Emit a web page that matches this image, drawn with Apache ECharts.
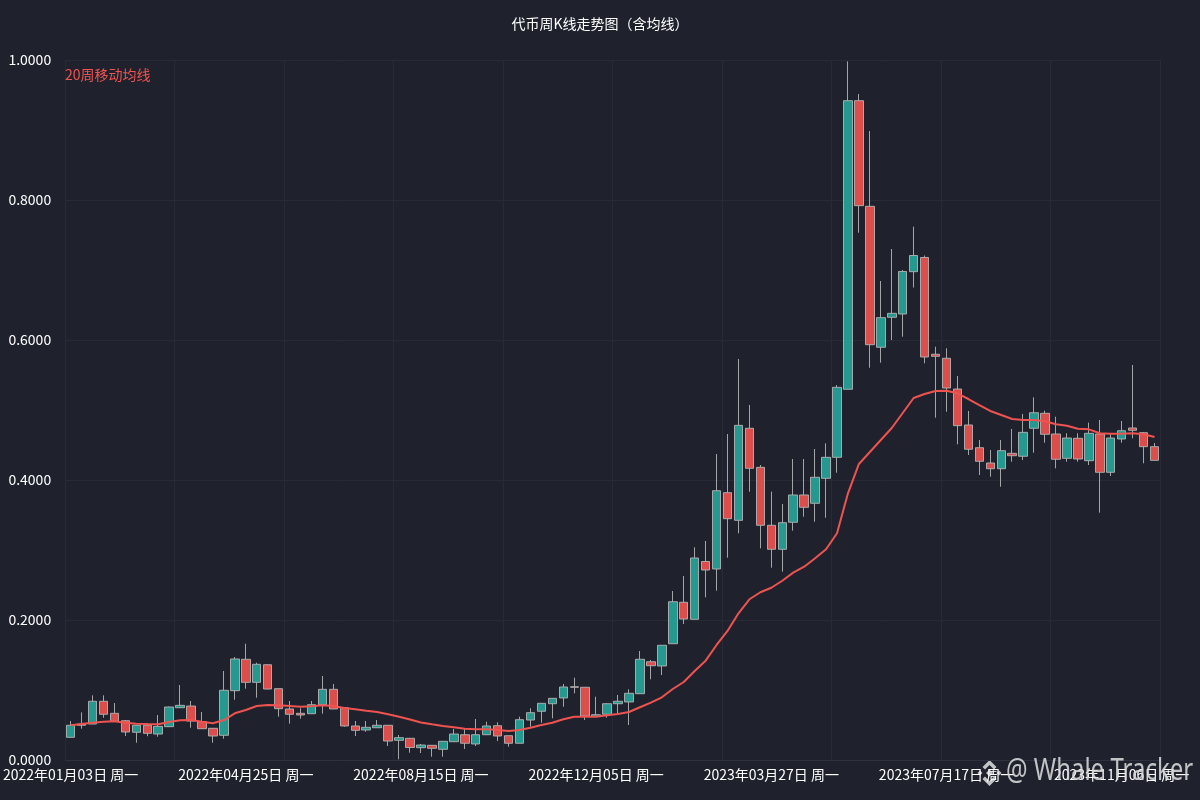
<!DOCTYPE html>
<html>
<head>
<meta charset="utf-8">
<title>代币周K线走势图</title>
<script src="https://cdn.jsdelivr.net/npm/echarts@6/dist/echarts.min.js"></script>
<style>
  html, body { margin: 0; padding: 0; background: #1f222d; }
  #main { width: 1200px; height: 800px; }
</style>
</head>
<body>
<div id="main"></div>
<script>
// weekly candles
const weeks = [
  '2022-01-03','2022-01-10','2022-01-17','2022-01-24','2022-01-31','2022-02-07','2022-02-14','2022-02-21','2022-02-28','2022-03-07',
  '2022-03-14','2022-03-21','2022-03-28','2022-04-04','2022-04-11','2022-04-18','2022-04-25','2022-05-02','2022-05-09','2022-05-16',
  '2022-05-23','2022-05-30','2022-06-06','2022-06-13','2022-06-20','2022-06-27','2022-07-04','2022-07-11','2022-07-18','2022-07-25',
  '2022-08-01','2022-08-08','2022-08-15','2022-08-22','2022-08-29','2022-09-05','2022-09-12','2022-09-19','2022-09-26','2022-10-03',
  '2022-10-10','2022-10-17','2022-10-24','2022-10-31','2022-11-07','2022-11-14','2022-11-21','2022-11-28','2022-12-05','2022-12-12',
  '2022-12-19','2022-12-26','2023-01-02','2023-01-09','2023-01-16','2023-01-23','2023-01-30','2023-02-06','2023-02-13','2023-02-20',
  '2023-02-27','2023-03-06','2023-03-13','2023-03-20','2023-03-27','2023-04-03','2023-04-10','2023-04-17','2023-04-24','2023-05-01',
  '2023-05-08','2023-05-15','2023-05-22','2023-05-29','2023-06-05','2023-06-12','2023-06-19','2023-06-26','2023-07-03','2023-07-10',
  '2023-07-17','2023-07-24','2023-07-31','2023-08-07','2023-08-14','2023-08-21','2023-08-28','2023-09-04','2023-09-11','2023-09-18',
  '2023-09-25','2023-10-02','2023-10-09','2023-10-16','2023-10-23','2023-10-30','2023-11-06','2023-11-13','2023-11-20','2023-11-27'
];

const openVals = [
  0.0324,0.0496,0.0514,0.0839,0.0667,0.0561,0.0396,0.0496,0.0371,0.0476,
  0.0747,0.0771,0.0547,0.0453,0.0353,0.0990,0.1439,0.1110,0.1361,0.1019,
  0.0729,0.0667,0.0661,0.0790,0.1010,0.0747,0.0486,0.0429,0.0461,0.0496,
  0.0281,0.0310,0.0176,0.0210,0.0153,0.0261,0.0361,0.0229,0.0361,0.0490,
  0.0347,0.0239,0.0571,0.0696,0.0804,0.0886,0.1047,0.1039,0.0624,0.0653,
  0.0804,0.0829,0.0947,0.1404,0.1343,0.1661,0.2253,0.2010,0.2836,0.2729,
  0.3819,0.3424,0.4739,0.4181,0.3353,0.3010,0.3396,0.3786,0.3667,0.4024,
  0.4324,0.5296,0.9419,0.7910,0.5896,0.6324,0.6371,0.6976,0.7179,0.5796,
  0.5739,0.5300,0.4786,0.4461,0.4243,0.4161,0.4381,0.4339,0.4739,0.4953,
  0.4657,0.4310,0.4596,0.4276,0.4657,0.4110,0.4586,0.4743,0.4676,0.4476
];
const closeVals = [
  0.0496,0.0514,0.0839,0.0653,0.0553,0.0400,0.0496,0.0381,0.0481,0.0757,
  0.0781,0.0557,0.0447,0.0343,0.0996,0.1443,0.1110,0.1367,0.1014,0.0733,
  0.0653,0.0643,0.0790,0.1010,0.0729,0.0486,0.0424,0.0467,0.0496,0.0271,
  0.0319,0.0179,0.0214,0.0167,0.0267,0.0371,0.0239,0.0361,0.0486,0.0343,
  0.0239,0.0576,0.0676,0.0810,0.0881,0.1043,0.1039,0.0629,0.0647,0.0804,
  0.0839,0.0953,0.1439,0.1347,0.1639,0.2261,0.2014,0.2886,0.2714,0.3847,
  0.3447,0.4781,0.4167,0.3353,0.3010,0.3390,0.3786,0.3610,0.4039,0.4324,
  0.5324,0.9419,0.7919,0.5933,0.6319,0.6381,0.6979,0.7207,0.5757,0.5767,
  0.5314,0.4776,0.4439,0.4267,0.4161,0.4419,0.4347,0.4681,0.4961,0.4653,
  0.4296,0.4600,0.4300,0.4667,0.4110,0.4600,0.4704,0.4710,0.4476,0.4281
];
const lowVals = [
  0.0321,0.0447,0.0514,0.0604,0.0553,0.0343,0.0247,0.0339,0.0333,0.0471,
  0.0743,0.0461,0.0447,0.0247,0.0304,0.0861,0.1019,0.0890,0.1010,0.0619,
  0.0519,0.0590,0.0661,0.0661,0.0729,0.0476,0.0343,0.0404,0.0461,0.0200,
  0.0010,0.0104,0.0100,0.0047,0.0047,0.0257,0.0157,0.0200,0.0357,0.0271,
  0.0190,0.0239,0.0476,0.0533,0.0596,0.0761,0.0953,0.0571,0.0614,0.0604,
  0.0667,0.0500,0.0943,0.1153,0.1214,0.1661,0.1943,0.2010,0.2324,0.2419,
  0.2890,0.3239,0.3833,0.3024,0.2747,0.2690,0.3276,0.3476,0.3404,0.3461,
  0.4104,0.5296,0.7533,0.5604,0.5676,0.6000,0.6047,0.6750,0.5667,0.4890,
  0.4976,0.4510,0.4357,0.4071,0.4047,0.3904,0.4261,0.4286,0.4390,0.4533,
  0.4167,0.4261,0.4261,0.4214,0.3533,0.4057,0.4533,0.4596,0.4239,0.4281
];
const highVals = [
  0.0557,0.0681,0.0924,0.0924,0.0814,0.0571,0.0500,0.0524,0.0643,0.0764,
  0.1071,0.0843,0.0686,0.0457,0.1271,0.1471,0.1661,0.1390,0.1365,0.1019,
  0.0843,0.0739,0.0843,0.1200,0.1086,0.0747,0.0557,0.0557,0.0571,0.0500,
  0.0357,0.0314,0.0229,0.0214,0.0271,0.0443,0.0453,0.0586,0.0547,0.0539,
  0.0347,0.0619,0.0739,0.0810,0.0886,0.1086,0.1176,0.1039,0.0904,0.0814,
  0.0929,0.1010,0.1557,0.1429,0.1643,0.2414,0.2629,0.3039,0.3129,0.4371,
  0.4657,0.5729,0.5071,0.4214,0.3833,0.3657,0.4300,0.4300,0.4443,0.4524,
  0.5357,0.9980,0.9514,0.8986,0.6843,0.7300,0.7000,0.7619,0.7207,0.5904,
  0.5881,0.5486,0.4986,0.4571,0.4429,0.4571,0.4729,0.4943,0.5181,0.4990,
  0.4904,0.4667,0.4667,0.4819,0.4857,0.4667,0.4843,0.5643,0.4686,0.4529
];
// moving average line as drawn
const maVals = [
  0.0496,0.0514,0.0533,0.0547,0.0553,0.0533,0.0519,0.0514,0.0510,0.0543,
  0.0567,0.0571,0.0547,0.0524,0.0571,0.0667,0.0714,0.0771,0.0786,0.0781,
  0.0771,0.0761,0.0767,0.0781,0.0771,0.0743,0.0724,0.0704,0.0686,0.0653,
  0.0619,0.0579,0.0536,0.0510,0.0486,0.0467,0.0447,0.0439,0.0439,0.0429,
  0.0414,0.0429,0.0461,0.0500,0.0533,0.0581,0.0619,0.0619,0.0619,0.0639,
  0.0657,0.0686,0.0753,0.0819,0.0896,0.1014,0.1114,0.1271,0.1419,0.1643,
  0.1843,0.2096,0.2296,0.2396,0.2461,0.2561,0.2676,0.2761,0.2881,0.3010,
  0.3239,0.3810,0.4229,0.4400,0.4571,0.4743,0.4957,0.5171,0.5229,0.5271,
  0.5276,0.5239,0.5157,0.5071,0.4986,0.4929,0.4871,0.4857,0.4857,0.4839,
  0.4796,0.4776,0.4733,0.4724,0.4667,0.4661,0.4661,0.4667,0.4653,0.4614
];
const yTicks = [0, 0.2, 0.4, 0.6, 0.8, 1.0];

const upColor = '#26a69a';
const downColor = '#ef5350';
const maName = '20周移动均线';
const markColor = 'rgba(218,218,218,0.88)';

let candles = [];
for (let i = 0; i < weeks.length; i++) {
  candles.push([openVals[i], closeVals[i], lowVals[i], highVals[i]]);
}

const chart = echarts.init(document.getElementById('main'), null, { renderer: 'canvas' });

const option = {
  backgroundColor: '#1f222d',
  animation: false,
  textStyle: { fontFamily: '"Noto Sans CJK SC", "Noto Sans", sans-serif' },
  title: {
    text: '代币周K线走势图（含均线）',
    left: 'center',
    top: 12,
    textStyle: { color: '#ffffff', fontSize: 14, fontWeight: 'normal' }
  },
  legend: {
    data: [maName],
    left: 55,
    top: 63,
    icon: 'none',
    itemWidth: 0,
    textStyle: { color: downColor, fontSize: 14 }
  },
  grid: { left: 60, right: 40, top: 60, bottom: 40 },
  xAxis: {
    type: 'category',
    data: weeks,
    boundaryGap: true,
    axisLine: { lineStyle: { color: '#2e3240' } },
    axisTick: { interval: 15, alignWithLabel: true, lineStyle: { color: '#2e3240' } },
    axisLabel: {
      interval: 15,
      color: '#ffffff',
      fontSize: 14,
      margin: 8,
      formatter: function (v) {
        const p = v.split('-');
        return p[0] + '年' + p[1] + '月' + p[2] + '日 周一';
      }
    },
    splitLine: { show: true, interval: 9, lineStyle: { color: '#272b37' } }
  },
  yAxis: {
    type: 'value',
    min: yTicks[0],
    max: yTicks[yTicks.length - 1],
    interval: 0.2,
    axisLine: { show: false },
    axisTick: { show: false },
    axisLabel: {
      color: '#ffffff',
      fontSize: 14,
      margin: 14,
      formatter: function (v) { return v.toFixed(4); }
    },
    splitLine: { lineStyle: { color: '#272b37' } }
  },
  series: [
    {
      name: 'K线',
      type: 'candlestick',
      data: candles,
      barWidth: '82%',
      itemStyle: {
        color: upColor,
        color0: downColor,
        borderColor: '#b4b4b4',
        borderColor0: '#b4b4b4',
        borderColorDoji: '#b4b4b4',
        borderWidth: 1,
        opacity: 0.9
      }
    },
    {
      name: maName,
      type: 'line',
      data: maVals,
      showSymbol: false,
      symbol: 'none',
      lineStyle: { color: downColor, width: 2 },
      itemStyle: { color: downColor }
    }
  ],
  graphic: [
    {
      // watermark logo
      type: 'group',
      x: 989.5,
      y: 773,
      z: 100,
      children: [
        { type: 'polygon', shape: { points: [[0, -13], [7, -6], [4.5, -3.5], [0, -8], [-4.5, -3.5], [-7, -6]] },
          style: { fill: markColor } },
        { type: 'polygon', shape: { points: [[0, 13], [7, 6], [4.5, 3.5], [0, 8], [-4.5, 3.5], [-7, 6]] },
          style: { fill: markColor } },
        { type: 'polygon', shape: { points: [[0, -3.5], [3.5, 0], [0, 3.5], [-3.5, 0]] },
          style: { fill: markColor } },
        { type: 'polygon', shape: { points: [[-9.5, -2.5], [-7, 0], [-9.5, 2.5], [-12, 0]] },
          style: { fill: markColor } },
        { type: 'polygon', shape: { points: [[9.5, -2.5], [12, 0], [9.5, 2.5], [7, 0]] },
          style: { fill: markColor } }
      ]
    },
    {
      type: 'text',
      x: 1006,
      y: 756,
      scaleX: 0.8,
      z: 100,
      style: {
        text: '@ Whale Tracker',
        fill: markColor,
        font: '30px "Noto Sans", sans-serif'
      }
    }
  ]
};

chart.setOption(option);
</script>
</body>
</html>
